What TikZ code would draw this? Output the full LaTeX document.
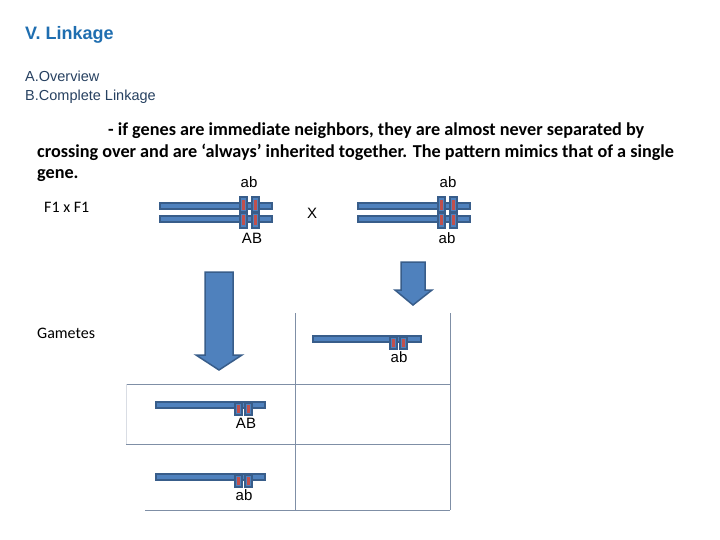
\documentclass[tikz,border=0pt]{standalone}
\usepackage{fontspec}
\setmainfont{Carlito}
\newfontfamily\arial{Liberation Sans}
\definecolor{cb}{HTML}{4F81BD}
\definecolor{cd}{HTML}{385D8A}
\definecolor{cr}{HTML}{C0504D}
\definecolor{tb}{HTML}{1F6EB0}
\definecolor{gl}{HTML}{7F8FA6}
\tikzset{
  bar/.style={fill=cb,draw=cd,line width=1.2pt},
  blk/.style={fill=cb,draw=cd,line width=1.2pt},
  stripe/.style={draw=cr,line width=2.2pt},
  lbl/.style={font=\arial\fontsize{15}{17}\selectfont,inner sep=0pt},
  body/.style={font=\bfseries\fontsize{18.2}{20}\selectfont,anchor=base west,inner sep=0pt},
  side/.style={font=\fontsize{16}{18}\selectfont,anchor=base west,inner sep=0pt},
  grid/.style={draw=gl,line width=0.8pt},
  bigarrow/.style={fill=cb,draw=cd,line width=1.5pt,line join=miter}
}
\newcommand{\genepair}[3]{% x0, x1, block x
  \draw[bar] (#1,203) rectangle (#2,209);
  \draw[bar] (#1,216) rectangle (#2,222);
  \foreach \d in {0,12}{
    \draw[blk] (#3+\d,197) rectangle (#3+\d+7,212);
    \draw[blk] (#3+\d,213) rectangle (#3+\d+7,228);
    \draw[stripe] (#3+\d+3.5,200) -- (#3+\d+3.5,210);
    \draw[stripe] (#3+\d+3.5,215) -- (#3+\d+3.5,225);
  }
}
\newcommand{\gamete}[4]{% x0, x1, y, block x
  \draw[bar] (#1,#3-3) rectangle (#2,#3+3);
  \foreach \d in {0,10}{
    \draw[blk] (#4+\d,#3-2) rectangle (#4+\d+7,#3+10);
    \draw[stripe] (#4+\d+3.5,#3) -- (#4+\d+3.5,#3+8);
  }
}
\begin{document}
\begin{tikzpicture}[x=1pt,y=-1pt]
\useasboundingbox[fill=white] (0,0) rectangle (720,540);
\node[anchor=base west,inner sep=0pt,text=tb,font=\arial\bfseries\fontsize{18}{20}\selectfont] (title) at (25,40) {V. Linkage};
\node[anchor=base west,inner sep=0pt,text=cd!70!black,font=\arial\fontsize{14.5}{16}\selectfont] (a) at (25,82) {A.Overview};
\node[anchor=base west,inner sep=0pt,text=cd!70!black,font=\arial\fontsize{14.5}{16}\selectfont] (b) at (25,101) {B.Complete Linkage};
\node[body] (t1) at (108,136) {- if genes are immediate neighbors, they are almost never separated by};
\node[body] (t2) at (37,158) {crossing over and are ‘always’ inherited together.  The pattern mimics that of a single};
\node[body] (t3) at (37,179) {gene.};
\node[side] (f1) at (44,212) {F1 x F1};
\node[side] (gam) at (37,338) {Gametes};
\genepair{160}{272}{240}
\genepair{358}{470}{438}
\node[lbl] (l1) at (249,182) {ab};
\node[lbl] (l2) at (448,182) {ab};
\node[lbl] (l3) at (252,238) {AB};
\node[lbl] (l4) at (447,238) {ab};
\node[lbl] (x) at (312,213) {X};
\draw[bigarrow] (205,272) -- (233,272) -- (233,355) -- (242,355) -- (219,370) -- (196,355) -- (205,355) -- cycle;
\draw[bigarrow] (401,262) -- (425,262) -- (425,290) -- (432,290) -- (413,305) -- (395,290) -- (401,290) -- cycle;
\draw[grid] (295,313) -- (295,510);
\draw[grid] (450,313) -- (450,510);
\draw[grid] (126,384) -- (450,384);
\draw[grid] (126,444) -- (450,444);
\draw[grid] (145,510) -- (450,510);
\draw[grid,draw=gl!30] (126,384) -- (126,444);
\gamete{313}{421}{339}{390}
\gamete{156}{265}{405}{235}
\gamete{156}{265}{477}{235}
\node[lbl] (g1) at (399,357) {ab};
\node[lbl] (g2) at (246,423) {AB};
\node[lbl] (g3) at (244,495) {ab};
\end{tikzpicture}
\end{document}
